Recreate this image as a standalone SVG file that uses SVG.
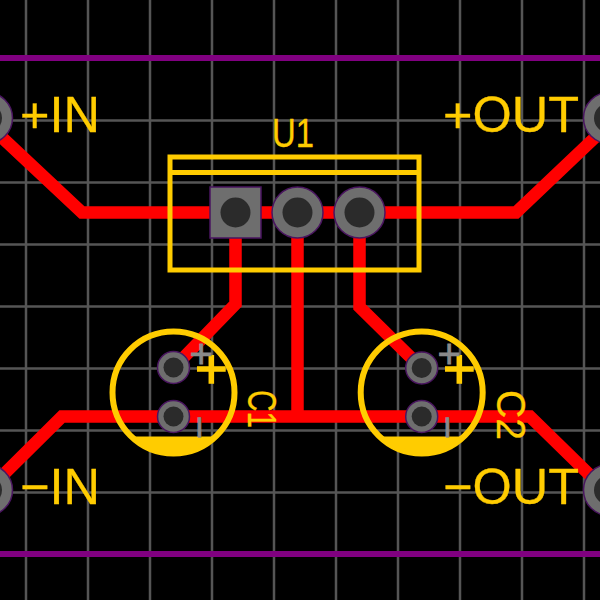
<svg xmlns="http://www.w3.org/2000/svg" width="600" height="600" viewBox="0 0 600 600">
<style>
.grid{stroke:#555;stroke-width:2.500;fill:none}
.edge{stroke:#800080;stroke-width:6;fill:none}
.trace{stroke:#ff0000;stroke-width:12.500;fill:none;stroke-linejoin:miter}
.pad{fill:#6e6e6e;stroke:#4a1560;stroke-width:1.500}
.hole{fill:#2b2b2b}
.silk{fill:none;stroke:#ffcc00;stroke-width:5}
.ring{fill:none;stroke:#ffcc00;stroke-width:6}
.seg{fill:#ffcc00}
text{font-family:"Liberation Sans",Arial,sans-serif}
.t{fill:#ffcc00;stroke:#ffcc00;stroke-width:.3;stroke-linejoin:round}
.g{fill:#8a8a8a;stroke:#8a8a8a;stroke-width:.8}
.y{fill:#ffcc00;stroke:#ffcc00;stroke-width:1.500}
</style>
<rect width="600" height="600" fill="#000"/>
<path class="grid" d="M26 0V600M88 0V600M150 0V600M212 0V600M274 0V600M336 0V600M398 0V600M460 0V600M522 0V600M584 0V600M0 58.500H600M0 120.500H600M0 182.500H600M0 244.500H600M0 306.500H600M0 368.500H600M0 430.500H600M0 492.500H600M0 554.500H600"/>
<path class="edge" d="M0 58H600M0 554H600"/>
<g id="connectors">
<path class="trace" d="M-5 131L82 212.500H516L605 128"/>
<path class="trace" d="M235.500 212.500V304L174 367.500"/>
<path class="trace" d="M297.500 212.500V416.500"/>
<path class="trace" d="M359.500 212.500V307L421.500 368"/>
<path class="trace" d="M-5 483L62 416.500H530L605 490"/>
</g>
<g id="U1">
<rect class="silk" x="170" y="157" width="249" height="113"/>
<path class="silk" d="M170 172.500H419"/>
<rect class="pad" x="210" y="187" width="51" height="51"/><circle class="hole" cx="235.500" cy="212.500" r="15"/>
<circle class="pad" cx="297.500" cy="212.500" r="25.500"/><circle class="hole" cx="297.500" cy="212.500" r="15"/>
<circle class="pad" cx="359.500" cy="212.500" r="25.500"/><circle class="hole" cx="359.500" cy="212.500" r="15"/>
<text class="t" x="272" y="147" font-size="40" textLength="42" lengthAdjust="spacingAndGlyphs">U1</text>
</g>
<g id="C1">
<path class="seg" d="M134 436.500H213A60 60 0 0 1 173.500 454A60 60 0 0 1 134 436.500Z"/>
<circle class="ring" cx="173.500" cy="392.500" r="61"/>
<circle class="pad" cx="173.500" cy="367.500" r="16"/><circle class="hole" cx="173.500" cy="367.500" r="10"/>
<circle class="pad" cx="173.500" cy="416.500" r="16"/><circle class="hole" cx="173.500" cy="416.500" r="10"/>
<text class="y" x="195" y="388" font-size="56">+</text>
<text class="g" x="189.500" y="368" font-size="40">+</text>
<text class="g" transform="translate(186 427.500) rotate(90)" font-size="40" text-anchor="middle">−</text>
<text class="t" transform="translate(248 390) rotate(90)" font-size="40" textLength="38" lengthAdjust="spacingAndGlyphs">C1</text>
</g>
<g id="C2">
<path class="seg" d="M382.200 436.500H461.200A60 60 0 0 1 421.700 454A60 60 0 0 1 382.200 436.500Z"/>
<circle class="ring" cx="421.700" cy="392.500" r="61"/>
<circle class="pad" cx="421.700" cy="368" r="16"/><circle class="hole" cx="421.700" cy="368" r="10"/>
<circle class="pad" cx="421.700" cy="416.500" r="16"/><circle class="hole" cx="421.700" cy="416.500" r="10"/>
<text class="y" x="443" y="388" font-size="56">+</text>
<text class="g" x="437.500" y="368" font-size="40">+</text>
<text class="g" transform="translate(434 427.500) rotate(90)" font-size="40" text-anchor="middle">−</text>
<text class="t" transform="translate(497 390) rotate(90)" font-size="40" textLength="50" lengthAdjust="spacingAndGlyphs">C2</text>
</g>
<g id="J1"><circle class="pad" cx="-13" cy="118" r="25.500"/><circle class="hole" cx="-13" cy="118" r="15"/></g>
<g id="J2"><circle class="pad" cx="609" cy="118" r="25.500"/><circle class="hole" cx="609" cy="118" r="15"/></g>
<g id="J3"><circle class="pad" cx="-13" cy="490" r="25.500"/><circle class="hole" cx="-13" cy="490" r="15"/></g>
<g id="J4"><circle class="pad" cx="609" cy="490" r="25.500"/><circle class="hole" cx="609" cy="490" r="15"/></g>
<text class="t" x="20" y="132" font-size="50" textLength="80" lengthAdjust="spacingAndGlyphs">+IN</text>
<text class="t" x="443" y="132" font-size="50" textLength="136" lengthAdjust="spacingAndGlyphs">+OUT</text>
<text class="t" x="20" y="504" font-size="50" textLength="80" lengthAdjust="spacingAndGlyphs">−IN</text>
<text class="t" x="443" y="504" font-size="50" textLength="136" lengthAdjust="spacingAndGlyphs">−OUT</text>
</svg>
